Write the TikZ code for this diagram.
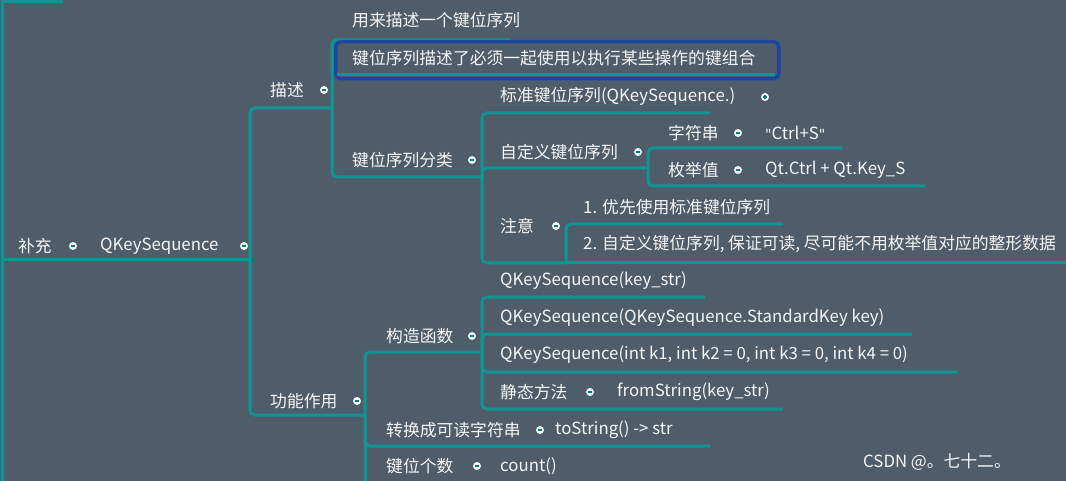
\documentclass[tikz,border=0pt]{standalone}
\usepackage{fontspec}
\setmainfont{Noto Sans CJK SC}
\newfontfamily\latq{DejaVu Sans}
\begin{document}
\begin{tikzpicture}[x=1pt,y=-1pt,
  br/.style={draw={rgb,255:red,14;green,150;blue,150},line width=3pt,rounded corners=5pt},
  tx/.style={anchor=west,inner sep=0pt,text=white!92!gray,font=\fontsize{16.8}{17}\selectfont},
  dotm/.style={circle,fill=white!92!gray,minimum size=8pt,inner sep=0pt,
     path picture={\draw[teal,line width=1.2pt] ([xshift=-2pt]path picture bounding box.center) -- ([xshift=2pt]path picture bounding box.center);}},
  dotp/.style={dotm,path picture={\draw[teal,line width=1.2pt] ([xshift=-2pt]path picture bounding box.center) -- ([xshift=2pt]path picture bounding box.center) ([yshift=-2pt]path picture bounding box.center) -- ([yshift=2pt]path picture bounding box.center);}}]
\fill[fill={rgb,255:red,79;green,93;blue,107}] (0,0) rectangle (1066,481);
\useasboundingbox (0,0) rectangle (1066,481);
% left frame
\draw[br,rounded corners=0pt] (63,2) -- (2,2) -- (2,481);
\draw[br,rounded corners=0pt] (2,260) -- (250,260);
\node[tx] (bc) at (18,246) {补充}; \node[dotm] (d0) at (73,246) {};
\node[tx] (qk) at (100,246) {QKeySequence}; \node[dotm] (d1) at (244,246) {};
% level 1
\draw[br] (250,260) -- (250,108) -- (332,108);
\draw[br] (250,260) -- (250,415) -- (365,415);
\node[tx] (ms) at (270,90) {描述}; \node[dotm] at (324,90) {};
\node[tx] (gn) at (270,401) {功能作用}; \node[dotm] at (357,401) {};
% 描述 children
\draw[br] (332,108) -- (332,40) -- (510,40);
\draw[br] (332,108) -- (332,177) -- (482,177);
\node[tx] (yl) at (352,20) {用来描述一个键位序列};
\node[draw={rgb,255:red,28;green,70;blue,160},line width=3.5pt,rounded corners=5pt,minimum width=443pt,minimum height=37pt,anchor=north west] (box) at (334,40) {};
\draw[br,rounded corners=0pt] (337,75) -- (775,75);
\node[tx] at (352,58) {键位序列描述了必须一起使用以执行某些操作的键组合};
\node[tx] (fl) at (352,160) {键位序列分类}; \node[dotm] at (472,160) {};
% 分类 children
\draw[br] (482,177) -- (482,113) -- (710,113);
\draw[br] (482,177) -- (482,168) -- (648,168);
\draw[br] (482,177) -- (482,263) -- (566,263);
\node[tx] (bz) at (500,96) {标准键位序列(QKeySequence.)}; \node[dotp] at (765,97) {};
\node[tx] (zd) at (500,152) {自定义键位序列}; \node[dotm] at (638,152) {};
\node[tx] (zy) at (500,226) {注意}; \node[dotm] at (556,226) {};
% 自定义 children
\draw[br] (648,168) -- (648,148) -- (842,148);
\draw[br] (648,168) -- (648,186) -- (925,186);
\node[tx] (zf) at (668,133) {字符串}; \node[dotm] at (738,133) {};
\node[tx] at (765,133) {{\latq\fontsize{14}{15}\selectfont\symbol{34}}Ctrl+S{\latq\fontsize{14}{15}\selectfont\symbol{34}}};
\node[tx] (mj) at (668,170) {枚举值}; \node[dotm] at (738,170) {};
\node[tx] at (765,170) {Qt.Ctrl + Qt.Key\_S};
% 注意 children
\draw[br] (566,263) -- (566,224) -- (783,224);
\draw[br] (566,263) -- (1066,263);
\node[tx] at (583,207) {1. 优先使用标准键位序列};
\node[tx] at (583,244) {2. 自定义键位序列, 保证可读, 尽可能不用枚举值对应的整形数据};
% 功能作用 children
\draw[br] (365,415) -- (365,352) -- (482,352);
\draw[br] (365,415) -- (365,446) -- (710,446);
\draw[br] (365,415) -- (365,481);
\node[tx] (gz) at (386,336) {构造函数}; \node[dotm] at (472,336) {};
\node[tx] (zh) at (386,430) {转换成可读字符串}; \node[dotm] at (540,430) {};
\node[tx] at (555,430) {toString() -> str};
\node[tx] (gs) at (386,466) {键位个数}; \node[dotm] at (477,466) {};
\node[tx] at (500,466) {count()};
% 构造 children
\draw[br] (482,352) -- (482,297) -- (705,297);
\draw[br] (482,352) -- (482,334) -- (912,334);
\draw[br] (482,352) -- (482,372) -- (957,372);
\draw[br] (482,352) -- (482,409) -- (783,409);
\node[tx] at (500,281) {QKeySequence(key\_str)};
\node[tx] at (500,318) {QKeySequence(QKeySequence.StandardKey key)};
\node[tx] at (500,355) {QKeySequence(int k1, int k2 = 0, int k3 = 0, int k4 = 0)};
\node[tx] (jt) at (500,392) {静态方法}; \node[dotm] at (590,392) {};
\node[tx] at (617,392) {fromString(key\_str)};
\node[tx] (wm) at (863,462) {CSDN @。七十二。};
\end{tikzpicture}
\end{document}
